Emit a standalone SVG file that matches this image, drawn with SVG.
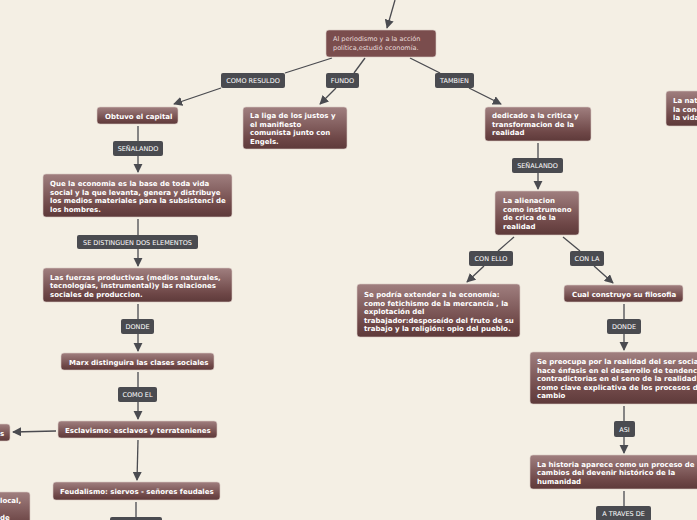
<svg xmlns="http://www.w3.org/2000/svg" width="697" height="520" viewBox="0 0 697 520">
<defs>
<linearGradient id="g" x1="0" y1="0" x2="0" y2="1">
<stop offset="0" stop-color="#a07f7f"/><stop offset="0.75" stop-color="#6e4747"/><stop offset="1" stop-color="#5e3a3a"/>
</linearGradient>
<marker id="a" viewBox="0 0 10 10" refX="9" refY="5" markerWidth="7" markerHeight="7" orient="auto"><path d="M0,0 L10,5 L0,10 z" fill="#4a4b50"/></marker>
</defs>
<style>
.n{fill:url(#g);stroke:#d9c9c4;stroke-width:0.6}
.t{font-family:"DejaVu Sans",sans-serif;font-weight:bold;font-size:7px;fill:#fff}
.l{fill:#4a4b50}
.lt{font-family:"DejaVu Sans",sans-serif;font-size:6.5px;fill:#fff;text-anchor:middle}
.c{stroke:#4a4b50;stroke-width:1.3;fill:none}
</style>
<rect width="697" height="520" fill="#f4efe4"/>
<g id="connectors">
<line class="c" x1="395" y1="0" x2="387" y2="28" marker-end="url(#a)"/>
<polyline class="c" points="332,58 285,73"/><line class="c" x1="221" y1="88" x2="174" y2="104" marker-end="url(#a)"/>
<line class="c" x1="365" y1="58" x2="354" y2="73"/><line class="c" x1="336" y1="88" x2="320" y2="104" marker-end="url(#a)"/>
<line class="c" x1="410" y1="58" x2="440" y2="73"/><line class="c" x1="469" y1="88" x2="501" y2="104" marker-end="url(#a)"/>
<line class="c" x1="138" y1="126" x2="138" y2="141"/><line class="c" x1="138" y1="156" x2="138" y2="172" marker-end="url(#a)"/>
<line class="c" x1="138" y1="219" x2="138" y2="235"/><line class="c" x1="138" y1="249" x2="138" y2="266" marker-end="url(#a)"/>
<line class="c" x1="138" y1="304" x2="138" y2="319"/><line class="c" x1="138" y1="334" x2="138" y2="351" marker-end="url(#a)"/>
<line class="c" x1="138" y1="372" x2="138" y2="387"/><line class="c" x1="138" y1="402" x2="138" y2="419" marker-end="url(#a)"/>
<line class="c" x1="56" y1="431" x2="13" y2="432" marker-end="url(#a)"/>
<line class="c" x1="138" y1="440" x2="137" y2="480" marker-end="url(#a)"/>
<line class="c" x1="136" y1="502" x2="136" y2="517"/>
<line class="c" x1="538" y1="143" x2="538" y2="158"/><line class="c" x1="538" y1="173" x2="538" y2="189" marker-end="url(#a)"/>
<line class="c" x1="514" y1="237" x2="498" y2="251"/><line class="c" x1="484" y1="266" x2="467" y2="282" marker-end="url(#a)"/>
<line class="c" x1="563" y1="237" x2="580" y2="251"/><line class="c" x1="594" y1="266" x2="613" y2="283" marker-end="url(#a)"/>
<line class="c" x1="624" y1="304" x2="624" y2="319"/><line class="c" x1="624" y1="334" x2="624" y2="350" marker-end="url(#a)"/>
<line class="c" x1="624" y1="406" x2="624" y2="421"/><line class="c" x1="624" y1="437" x2="624" y2="453" marker-end="url(#a)"/>
<line class="c" x1="624" y1="491" x2="624" y2="506"/>
</g>
<g id="n-top"><rect x="326" y="30" width="110" height="27" rx="3" fill="#7a4d4d" stroke="#d9c9c4" stroke-width="0.6"/>
<text class="t" style="font-weight:normal;font-size:6.5px;fill:#e8dcdc" x="333" y="41">Al periodismo y a la acción</text>
<text class="t" style="font-weight:normal;font-size:6.5px;fill:#e8dcdc" x="333" y="50">política,estudió economía.</text></g>
<g id="l1"><rect class="l" x="221" y="73" width="64" height="15" rx="2"/><text class="lt" x="253" y="83">COMO RESULDO</text></g>
<g id="l2"><rect class="l" x="326" y="73" width="33" height="15" rx="2"/><text class="lt" x="342.5" y="83">FUNDO</text></g>
<g id="l3"><rect class="l" x="435" y="73" width="39" height="15" rx="2"/><text class="lt" x="454.5" y="83">TAMBIEN</text></g>
<g id="n-capital"><rect class="n" x="97" y="107" width="81" height="17" rx="3"/><text class="t" x="105" y="118.5">Obtuvo el capital</text></g>
<g id="n-liga"><rect class="n" x="243" y="107" width="104" height="42" rx="3"/>
<text class="t" x="250" y="118">La liga de los justos y</text><text class="t" x="250" y="126.5">el manifiesto</text><text class="t" x="250" y="135">comunista junto con</text><text class="t" x="250" y="143.5">Engels.</text></g>
<g id="n-dedicado"><rect class="n" x="485" y="107" width="106" height="34" rx="3"/>
<text class="t" x="492" y="118">dedicado a la critica y</text><text class="t" x="492" y="126.5">transformacion de la</text><text class="t" x="492" y="135">realidad</text></g>
<g id="l4"><rect class="l" x="113" y="141" width="50" height="15" rx="2"/><text class="lt" x="138" y="151">SEÑALANDO</text></g>
<g id="n-que"><rect class="n" x="43" y="174" width="189" height="43" rx="3"/>
<text class="t" x="50" y="186">Que la economia es la base de toda vida</text><text class="t" x="50" y="194.5">social y la que levanta, genera y distribuye</text><text class="t" x="50" y="203">los medios materiales para la subsistenci de</text><text class="t" x="50" y="211.5">los hombres.</text></g>
<g id="l5"><rect class="l" x="77" y="235" width="121" height="14" rx="2"/><text class="lt" x="137.5" y="244.5">SE DISTINGUEN DOS ELEMENTOS</text></g>
<g id="n-fuerzas"><rect class="n" x="43" y="268" width="189" height="34" rx="3"/>
<text class="t" x="50" y="279.5">Las fuerzas productivas (medios naturales,</text><text class="t" x="50" y="288">tecnologías, instrumental)y las relaciones</text><text class="t" x="50" y="296.5">sociales de produccion.</text></g>
<g id="l6"><rect class="l" x="121" y="319" width="33" height="15" rx="2"/><text class="lt" x="137.5" y="329">DONDE</text></g>
<g id="n-marx"><rect class="n" x="61" y="353" width="153" height="17" rx="3"/><text class="t" x="69" y="364.5">Marx distinguira las clases sociales</text></g>
<g id="l7"><rect class="l" x="118" y="387" width="39" height="15" rx="2"/><text class="lt" x="137.5" y="397">COMO EL</text></g>
<g id="n-escl"><rect class="n" x="58" y="421" width="159" height="17" rx="3"/><text class="t" x="65" y="432.5">Esclavismo: esclavos y terratenienes</text></g>
<g id="n-leftA"><rect class="n" x="-20" y="424" width="30" height="17" rx="3"/><text class="t" x="0" y="435.5">s</text></g>
<g id="n-feud"><rect class="n" x="53" y="482" width="167" height="18" rx="3"/><text class="t" x="60" y="494">Feudalismo: siervos - señores feudales</text></g>
<g id="n-leftB"><rect class="n" x="-40" y="492" width="70" height="40" rx="3"/><text class="t" x="0" y="503">local,</text><text class="t" x="0" y="520">de</text></g>
<g id="l8"><rect class="l" x="110" y="517" width="52" height="10" rx="2"/></g>
<g id="l9"><rect class="l" x="512" y="158" width="51" height="15" rx="2"/><text class="lt" x="537.5" y="168">SEÑALANDO</text></g>
<g id="n-alien"><rect class="n" x="495" y="191" width="84" height="44" rx="3"/>
<text class="t" x="503" y="203">La alienacion</text><text class="t" x="503" y="211.5">como instrumeno</text><text class="t" x="503" y="220">de crica de la</text><text class="t" x="503" y="228.5">realidad</text></g>
<g id="l10"><rect class="l" x="469" y="251" width="44" height="15" rx="2"/><text class="lt" x="491" y="261">CON ELLO</text></g>
<g id="l11"><rect class="l" x="570" y="251" width="34" height="15" rx="2"/><text class="lt" x="587" y="261">CON LA</text></g>
<g id="n-podria"><rect class="n" x="357" y="284" width="163" height="53" rx="3"/>
<text class="t" x="364" y="297">Se podría extender a la economía:</text><text class="t" x="364" y="305.5">como fetichismo de la mercancía , la</text><text class="t" x="364" y="314">explotación del</text><text class="t" x="364" y="322.5">trabajador:desposeído del fruto de su</text><text class="t" x="364" y="331">trabajo y la religión: opio del pueblo.</text></g>
<g id="n-cual"><rect class="n" x="564" y="285" width="119" height="17" rx="3"/><text class="t" x="572" y="296.5">Cual construyo su filosofia</text></g>
<g id="l12"><rect class="l" x="607" y="319" width="34" height="15" rx="2"/><text class="lt" x="624" y="329">DONDE</text></g>
<g id="n-preocupa"><rect class="n" x="530" y="352" width="175" height="52" rx="3"/>
<text class="t" x="537" y="364">Se preocupa por la realidad del ser social</text><text class="t" x="537" y="372.5">hace énfasis en el desarrollo de tendencias</text><text class="t" x="537" y="381">contradictorias en el seno de la realidad</text><text class="t" x="537" y="389.5">como clave explicativa de los procesos de</text><text class="t" x="537" y="398">cambio</text></g>
<g id="l13"><rect class="l" x="614" y="421" width="21" height="16" rx="2"/><text class="lt" x="624.5" y="431.5">ASI</text></g>
<g id="n-historia"><rect class="n" x="530" y="455" width="175" height="34" rx="3"/>
<text class="t" x="537" y="466.5">La historia aparece como un proceso de</text><text class="t" x="537" y="475">cambios del devenir histórico de la</text><text class="t" x="537" y="483.5">humanidad</text></g>
<g id="l14"><rect class="l" x="596" y="506" width="55" height="15" rx="2"/><text class="lt" x="623.5" y="516">A TRAVES DE</text></g>
<g id="n-nat"><rect class="n" x="666" y="91" width="50" height="35" rx="3"/>
<text class="t" x="673" y="103">La naturaleza</text><text class="t" x="673" y="111.5">la conciencia</text><text class="t" x="673" y="120">la vida</text></g>
</svg>
